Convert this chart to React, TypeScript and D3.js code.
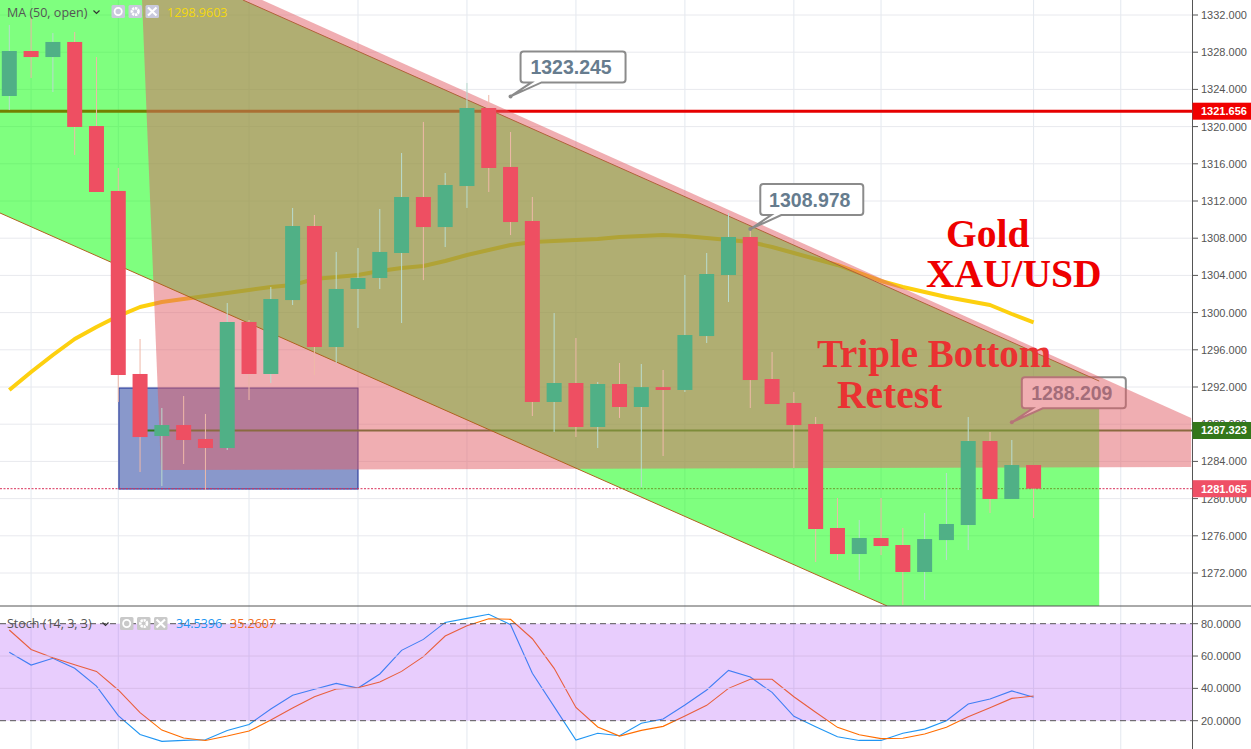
import React from "react";
import * as d3 from "d3";

const opens = [1323.29,1328.13,1327.48,1329.10,1320.06,1313.08,1293.40,1286.73,1287.91,1286.41,1285.44,1298.99,1293.40,1301.35,1309.31,1296.30,1302.54,1303.72,1306.41,1312.43,1309.20,1313.61,1322.00,1315.66,1309.85,1290.39,1292.43,1287.70,1292.32,1289.85,1291.99,1291.68,1297.48,1304.04,1308.13,1292.86,1290.28,1288.02,1276.84,1274.04,1275.76,1275.01,1272.11,1275.54,1277.16,1286.19,1279.96,1283.61];
const highs = [1330.92,1331.68,1330.06,1330.17,1327.48,1315.55,1297.16,1289.74,1291.03,1289.10,1301.03,1299.20,1302.75,1311.25,1310.49,1306.52,1306.95,1311.14,1317.16,1320.50,1315.01,1324.69,1323.40,1319.42,1312.43,1299.95,1297.27,1292.54,1294.58,1294.47,1293.83,1304.04,1306.41,1310.71,1308.88,1295.76,1291.46,1288.77,1280.06,1277.70,1280.06,1276.84,1278.45,1282.75,1288.77,1287.16,1286.30,1283.61];
const lows = [1321.78,1325.23,1323.72,1316.95,1312.97,1290.39,1282.86,1281.35,1283.72,1280.92,1285.23,1290.60,1292.43,1300.82,1293.29,1294.58,1298.34,1302.54,1298.88,1303.50,1307.05,1311.25,1312.97,1308.34,1288.88,1287.16,1286.62,1285.44,1288.67,1281.25,1284.58,1291.46,1296.73,1301.14,1289.74,1290.17,1283.29,1273.18,1273.40,1271.25,1273.93,1268.56,1269.10,1273.40,1274.47,1278.45,1279.96,1277.91];
const closes = [1328.13,1327.48,1329.10,1319.96,1312.97,1293.29,1286.62,1287.91,1286.30,1285.44,1298.99,1293.40,1301.46,1309.31,1296.30,1302.54,1303.72,1306.52,1312.43,1309.20,1313.72,1322.00,1315.55,1309.74,1290.39,1292.43,1287.70,1292.32,1289.85,1291.99,1291.68,1297.59,1304.15,1308.13,1292.75,1290.17,1287.91,1276.73,1274.04,1275.76,1274.90,1272.11,1275.65,1277.27,1286.19,1279.96,1283.61,1281.07];
const ma50 = [1291.68,1293.61,1295.44,1297.16,1298.45,1299.63,1300.60,1301.14,1301.46,1301.78,1302.10,1302.43,1302.75,1302.96,1303.61,1303.83,1304.04,1304.47,1304.80,1305.01,1305.55,1306.19,1306.73,1307.27,1307.59,1307.70,1307.81,1307.91,1308.13,1308.24,1308.34,1308.24,1308.02,1307.81,1307.59,1307.05,1306.41,1305.76,1305.12,1304.26,1303.40,1302.75,1302.22,1301.68,1301.25,1300.82,1299.85,1298.96];
const stochK = [62.3,54.4,58.6,52.4,41.4,23.1,11.5,7.2,7.8,8.2,14,17.7,27.2,35.7,39.4,43.1,40.2,48.9,63.5,70.3,80.8,83.3,85.8,79.4,49.3,28.7,8,12.2,10.7,18.4,21,29.7,39,51.1,47,37.5,22.7,16.3,10.1,7.8,7.8,12.2,14.8,20,30.3,33.4,38.4,34.54];
const stochD = [76.1,64.1,59,54.6,50.5,39,25,14.2,9.3,7.8,10.5,13.6,20.4,27.8,34.8,39.6,40.4,43.9,50.5,59.6,72.4,78.8,83.1,82.7,70.7,52.4,28.2,16.1,10.5,14,16.5,22.9,29.5,40,45.6,45.6,34.8,25.2,15.9,11.3,8.9,9.1,11.8,15.9,22.5,28,33.8,35.26];
const priceTicks = [1332,1328,1324,1320,1316,1312,1308,1304,1300,1296,1292,1288,1284,1280,1276,1272];
const stochTicks = [80,60,40,20];
const verticalGrid = [1,5,11,16,21,26,31,36,40,47,51];

const resistance = 1321.656;
const support = 1287.323;
const supportStartIdx = 6;
const lastPrice = 1281.065;

type Pt = [number, number];
const greenZone: Pt[] = [[-0.5,1333.61],[10.72,1333.61],[50.01,1292.64],[50.01,1268.45],[40.28,1268.45],[-0.427,1310.71],[-0.5,1310.71]];
const pinkZone: Pt[] = [[6.09,1333.61],[11.6,1333.61],[54.23,1288.67],[54.23,1283.4],[6.96,1283.07]];
const upperEdge: Pt[] = [[10.72,1333.61],[50.01,1292.64]];
const lowerEdge: Pt[] = [[-0.427,1310.71],[40.28,1268.45]];
const blueBox: Pt[] = [[5.03,1291.89],[16,1281.03]];

const calloutsTop = [
  { idx: 23, price: 1323.245, label: "1323.245", w: 105 },
  { idx: 34, price: 1308.978, label: "1308.978", w: 103 },
];
const calloutUnder = { idx: 46, price: 1288.209, label: "1288.209", w: 104 };

const W = 1251, H = 749, PLOT_W = 1192.5, SPLIT = 606;
const x = d3.scaleLinear().domain([0, 47]).range([9.3, 1033.6]);
const y = d3.scaleLinear().domain([1332, 1272]).range([15, 573]);
const ys = d3.scaleLinear().domain([80, 20]).range([623.7, 720.7]);

const UP = "#50b086", DOWN = "#ee4f62", UP_W = "#b9dccf", DOWN_W = "#efb9a8";
const SANS = "'Liberation Sans', Arial, sans-serif";
const UI = "'Open Sans', sans-serif";
const SERIF = "'Liberation Serif', serif";

const poly = (pts: Pt[]) => pts.map(p => `${x(p[0])},${y(p[1])}`).join(" ");
const maLine = d3.line<number>().x((_, i) => x(i)).y(d => y(d));
const sLine = d3.line<number>().x((_, i) => x(i)).y(d => ys(d));

function Callout({ c }: { c: { idx: number; price: number; label: string; w: number } }) {
  const ax = x(c.idx), ay = y(c.price);
  const l = ax + 10, r = l + c.w, t = ay - 45, b = ay - 14, q = 3;
  const d = `M${l + q},${t} H${r - q} Q${r},${t} ${r},${t + q} V${b - q} Q${r},${b} ${r - q},${b} H${l + 21} L${ax},${ay} L${l + 11},${b} H${l + q} Q${l},${b} ${l},${b - q} V${t + q} Q${l},${t} ${l + q},${t} Z`;
  return (
    <g>
      <path d={d} fill="#fff" stroke="#8b8b8b" strokeWidth={2} />
      <circle cx={ax} cy={ay} r={2} fill="#8b8b8b" />
      <text x={(l + r) / 2 - 2} y={(t + b) / 2 + 7} textAnchor="middle" fontFamily={SANS} fontWeight={700} fontSize={19.5} fill="#667c8e">{c.label}</text>
    </g>
  );
}

function Icons({ xs, top, fill }: { xs: number[]; top: number; fill: string }) {
  return (
    <g>
      {xs.map((ix, i) => (
        <g key={i}>
          <rect x={ix} y={top} width={13.5} height={13} rx={1.5} fill={fill} />
          {i === 0 && <circle cx={ix + 6.7} cy={top + 6.5} r={3.6} fill="none" stroke="#fff" strokeWidth={1.8} />}
          {i === 1 && <circle cx={ix + 6.7} cy={top + 6.5} r={3.3} fill="none" stroke="#fff" strokeWidth={2.6} strokeDasharray="2.2 0.8" />}
          {i === 2 && <path d={`M${ix + 2.5},${top + 2.5} L${ix + 11},${top + 10.5} M${ix + 11},${top + 2.5} L${ix + 2.5},${top + 10.5}`} stroke="#fff" strokeWidth={2.2} />}
        </g>
      ))}
    </g>
  );
}

function Chevron({ cx, cy }: { cx: number; cy: number }) {
  return <path d={`M${cx - 3},${cy - 1.5} L${cx},${cy + 1.5} L${cx + 3},${cy - 1.5}`} fill="none" stroke="#333" strokeWidth={1.2} />;
}

function PriceTag({ v, bg, text }: { v: number; bg: string; text: string }) {
  return (
    <g>
      <rect x={1192.5} y={y(v) - 8.5} width={W - 1192.5} height={17} fill={bg} />
      <text x={1201} y={y(v) + 4} fontFamily={SANS} fontWeight={700} fontSize={11} fill="#fff">{text}</text>
    </g>
  );
}

export default function App() {
  return (
    <svg width={W} height={H} viewBox={`0 0 ${W} ${H}`} style={{ position: "fixed", left: 0, top: 0, display: "block", background: "#fff" }}>
      <defs>
        <clipPath id="main"><rect x={0} y={0} width={PLOT_W} height={SPLIT} /></clipPath>
      </defs>

      {/* grid */}
      {verticalGrid.map(i => <line key={i} x1={x(i)} x2={x(i)} y1={0} y2={H} stroke="#e3e8ef" />)}
      {priceTicks.map(t => <line key={t} x1={0} x2={PLOT_W} y1={y(t)} y2={y(t)} stroke="#e8e9ee" />)}

      <g clipPath="url(#main)">
        <rect x={x(blueBox[0][0])} y={y(blueBox[0][1])} width={x(blueBox[1][0]) - x(blueBox[0][0])} height={y(blueBox[1][1]) - y(blueBox[0][1])} fill="#8998cb" stroke="#1c2f96" strokeWidth={1} />
        <line x1={0} x2={PLOT_W} y1={y(lastPrice)} y2={y(lastPrice)} stroke="#d9325a" strokeDasharray="2 1.5" />
        <line x1={x(supportStartIdx)} x2={PLOT_W} y1={y(support)} y2={y(support)} stroke="#33771a" strokeWidth={2} />
        <line x1={0} x2={PLOT_W} y1={y(resistance)} y2={y(resistance)} stroke="#e60000" strokeWidth={3} />
        <path d={maLine(ma50) || ""} fill="none" stroke="#fdd00f" strokeWidth={4} strokeLinejoin="round" />

        <polygon points={poly(greenZone)} fill="#00ff00" fillOpacity={0.5} />
        <Callout c={calloutUnder} />
        <polygon points={poly(pinkZone)} fill="rgb(225,93,101)" fillOpacity={0.5} />
        <line x1={x(upperEdge[0][0])} y1={y(upperEdge[0][1])} x2={x(upperEdge[1][0])} y2={y(upperEdge[1][1])} stroke="#b0623a" strokeWidth={1} />
        <line x1={x(lowerEdge[0][0])} y1={y(lowerEdge[0][1])} x2={x(lowerEdge[1][0])} y2={y(lowerEdge[1][1])} stroke="#b0621e" strokeWidth={1} />

        {/* candles */}
        {opens.map((o, i) => {
          const c = closes[i], up = c >= o;
          const top = y(Math.max(o, c)), bot = y(Math.min(o, c));
          return (
            <g key={i}>
              <line x1={x(i)} x2={x(i)} y1={y(highs[i])} y2={y(lows[i])} stroke={up ? UP_W : DOWN_W} />
              <rect x={x(i) - 7.5} y={top} width={15} height={Math.max(bot - top, 1)} fill={up ? UP : DOWN} />
            </g>
          );
        })}

        {calloutsTop.map(c => <Callout key={c.label} c={c} />)}

        <g fontFamily={SERIF} fontWeight={700} fontSize={39.5}>
          <text x={946} y={247} fill="#ee0000">Gold</text>
          <text x={926} y={287} fill="#ee0000">XAU/USD</text>
          <text x={817} y={367} fontSize={39} fill="#ea3232">Triple Bottom</text>
          <text x={837} y={408} fill="#ea3232">Retest</text>
        </g>
      </g>

      {/* main legend */}
      <text x={7} y={17} fontFamily={UI} fontSize={12.5} fill="#555">MA (50, open)</text>
      <Chevron cx={96.5} cy={12} />
      <Icons xs={[111.5, 128.5, 145.5]} top={5} fill="#c9c9dc" />
      <text x={167} y={17} fontFamily={UI} fontSize={12.5} fill="#f5d90f">1298.9603</text>

      {/* stochastic panel */}
      <path d={sLine(stochK) || ""} fill="none" stroke="#2196f3" strokeWidth={1.1} />
      <path d={sLine(stochD) || ""} fill="none" stroke="#ff6d00" strokeWidth={1.1} />
      <rect x={0} y={ys(80)} width={PLOT_W} height={ys(20) - ys(80)} fill="rgb(163,55,247)" fillOpacity={0.25} />
      {[60, 40].map(t => <line key={t} x1={0} x2={PLOT_W} y1={ys(t)} y2={ys(t)} stroke="#d8bdea" />)}
      {[80, 20].map(t => <line key={t} x1={0} x2={PLOT_W} y1={ys(t)} y2={ys(t)} stroke="#555" strokeDasharray="6 4" />)}
      <text x={7} y={628} fontFamily={UI} fontSize={12.5} fill="#555">Stoch (14, 3, 3)</text>
      <Chevron cx={105.5} cy={624} />
      <Icons xs={[120, 137, 154]} top={617} fill="#c9c9c9" />
      <text x={176} y={628} fontFamily={UI} fontSize={12.5} fill="#2196f3">34.5396</text>
      <text x={230} y={628} fontFamily={UI} fontSize={12.5} fill="#f26d21">35.2607</text>

      {/* axes */}
      <line x1={0} x2={W} y1={SPLIT} y2={SPLIT} stroke="#555" />
      <line x1={PLOT_W} x2={PLOT_W} y1={0} y2={H} stroke="#555" />
      {priceTicks.map(t => (
        <g key={t}>
          <line x1={PLOT_W} x2={1198} y1={y(t)} y2={y(t)} stroke="#555" />
          <text x={1201} y={y(t) + 4} fontFamily={SANS} fontSize={11} fill="#555">{d3.format(".3f")(t)}</text>
        </g>
      ))}
      {stochTicks.map(t => (
        <g key={t}>
          <line x1={PLOT_W} x2={1198} y1={ys(t)} y2={ys(t)} stroke="#555" />
          <text x={1201} y={ys(t) + 4} fontFamily={SANS} fontSize={11} fill="#555">{d3.format(".4f")(t)}</text>
        </g>
      ))}
      <PriceTag v={resistance} bg="#f00000" text="1321.656" />
      <PriceTag v={support} bg="#33771a" text="1287.323" />
      <PriceTag v={lastPrice} bg="#ef5066" text="1281.065" />
    </svg>
  );
}
